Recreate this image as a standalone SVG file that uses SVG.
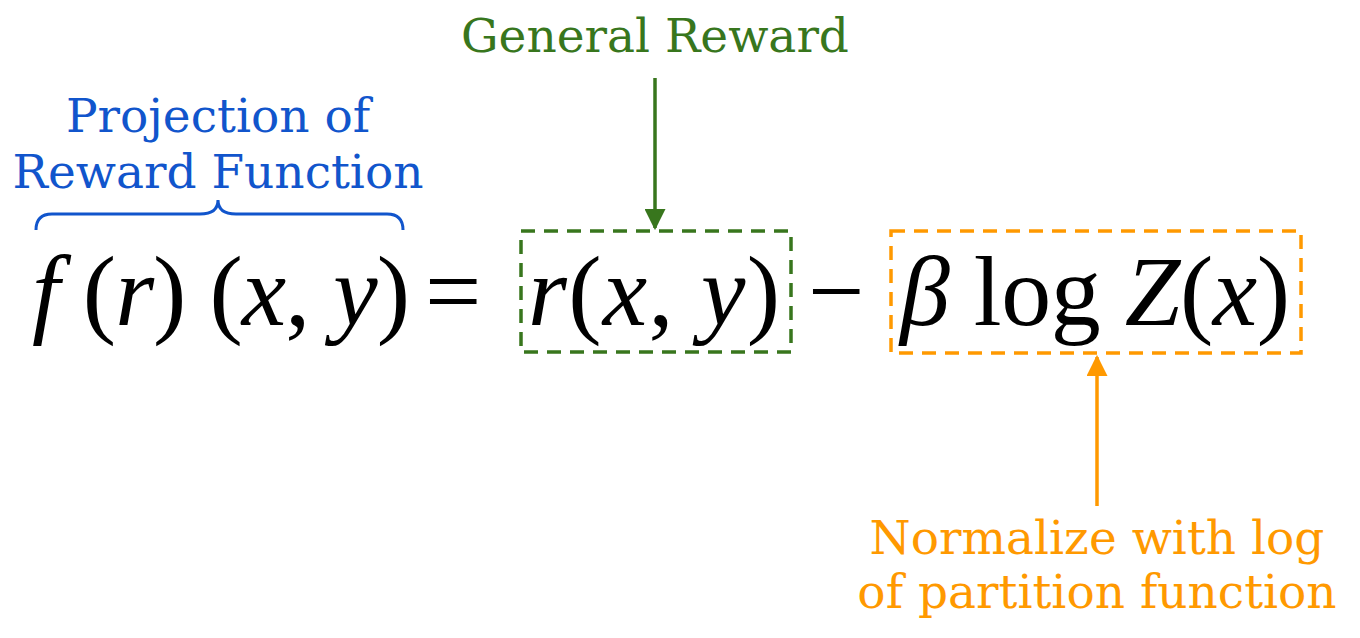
<svg xmlns="http://www.w3.org/2000/svg" width="1360" height="638" viewBox="0 0 1360 638">
<style>
.lab{font-family:"DejaVu Serif","Liberation Serif",serif;font-size:47px;text-anchor:middle}
.m{font-family:"Liberation Serif","DejaVu Serif",serif;font-size:100px;fill:#000}
.i{font-style:italic}
.box{fill:none;stroke-width:3.5;stroke-dasharray:14 9}
</style>
<defs>
<marker id="ag" viewBox="0 0 10 10" refX="9" refY="5" markerWidth="6" markerHeight="6" orient="auto"><path d="M0,0L10,5L0,10z" fill="#38761d"/></marker>
<marker id="ao" viewBox="0 0 10 10" refX="9" refY="5" markerWidth="6" markerHeight="6" orient="auto"><path d="M0,0L10,5L0,10z" fill="#ff9900"/></marker>
</defs>
<rect width="1360" height="638" fill="#fff"/>
<g id="equation">
<text class="m" x="32" y="325" textLength="378" lengthAdjust="spacing"><tspan class="i">f</tspan> (<tspan class="i">r</tspan>) (<tspan class="i">x</tspan>, <tspan class="i">y</tspan>)</text>
<text class="m" x="425" y="325">=</text>
<text class="m" x="528" y="325" textLength="252" lengthAdjust="spacing"><tspan class="i">r</tspan>(<tspan class="i">x</tspan>, <tspan class="i">y</tspan>)</text>
<text class="m" x="808" y="325">−</text>
<text class="m" x="900" y="325" textLength="390" lengthAdjust="spacing"><tspan class="i">β</tspan> log <tspan class="i">Z</tspan>(<tspan class="i">x</tspan>)</text>
</g>
<g id="general-reward">
<rect class="box" x="521" y="231" width="270" height="121" stroke="#38761d"/>
<text class="lab" x="655" y="52" fill="#38761d">General Reward</text>
</g>
<g id="normalize">
<rect class="box" x="891" y="231" width="410" height="122" stroke="#ff9900"/>
<text class="lab" x="1097" y="554" fill="#ff9900">Normalize with log</text>
<text class="lab" x="1097" y="608" fill="#ff9900">of partition function</text>
</g>
<g id="projection">
<text class="lab" x="218" y="132" fill="#1155cc">Projection of</text>
<text class="lab" x="218" y="188" fill="#1155cc">Reward Function</text>
<path d="M36,230 Q36,214 52,214 L200,214 Q218,214 218,200 Q218,214 236,214 L387,214 Q403,214 403,230" fill="none" stroke="#1155cc" stroke-width="3"/>
</g>
<g id="connectors">
<line x1="655" y1="78" x2="655" y2="228" stroke="#38761d" stroke-width="3.5" marker-end="url(#ag)"/>
<line x1="1097" y1="506" x2="1097" y2="357" stroke="#ff9900" stroke-width="3.5" marker-end="url(#ao)"/>
</g>
</svg>
